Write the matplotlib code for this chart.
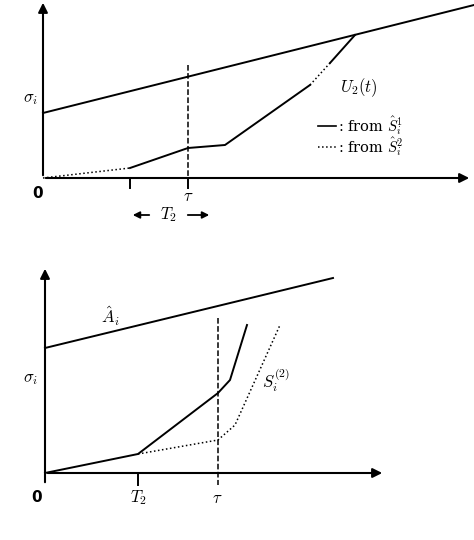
import matplotlib.pyplot as plt

plt.rcParams['mathtext.fontset'] = 'cm'

# top panel (pixel coordinates, y downward)
top_bound_x = [43, 474]
top_bound_y = [113, 5]
top_dot_x = [43, 130]
top_dot_y = [178, 168]
top_solid_x = [130, 188, 225, 310]
top_solid_y = [168, 148, 145, 85]
top_gap_x = [310, 330]
top_gap_y = [85, 63]
top_end_x = [330, 355]
top_end_y = [63, 35]

# bottom panel
bot_bound_x = [45, 333]
bot_bound_y = [348, 278]
bot_solid_x = [45, 138, 218, 230, 247]
bot_solid_y = [473, 454, 393, 380, 325]
bot_dot_x = [138, 218, 235, 280]
bot_dot_y = [454, 440, 425, 325]

fig = plt.figure(figsize=(4.74, 5.4), dpi=100)
ax = fig.add_axes([0, 0, 1, 1])
ax.set_xlim(0, 474)
ax.set_ylim(540, 0)
ax.axis('off')

lw = 1.4
arr = dict(arrowstyle='-|>', color='black', lw=1.5, mutation_scale=14)
# top axes
ax.annotate('', xy=(472, 178), xytext=(43, 178), arrowprops=arr)
ax.annotate('', xy=(43, 0), xytext=(43, 178), arrowprops=arr)
ax.plot(top_bound_x, top_bound_y, color='black', lw=lw)
ax.plot(top_dot_x, top_dot_y, color='black', lw=1.1, ls=':')
ax.plot(top_solid_x, top_solid_y, color='black', lw=lw)
ax.plot(top_gap_x, top_gap_y, color='black', lw=1.1, ls=':')
ax.plot(top_end_x, top_end_y, color='black', lw=lw)
ax.plot([188, 188], [65, 178], color='black', lw=1.1, ls='--')
for x in [130, 188]:
    ax.plot([x, x], [178, 188], color='black', lw=lw)
ax.text(38, 193, '0', fontsize=11, fontweight='bold', ha='center', va='center')
ax.text(188, 196, r'$\tau$', fontsize=12, ha='center', va='center')
ax.text(30, 98, r'$\sigma_i$', fontsize=12, ha='center', va='center')
ax.text(340, 88, r'$U_2(t)$', fontsize=12, ha='left', va='center')
ax.annotate('', xy=(130, 215), xytext=(152, 215), arrowprops=dict(arrowstyle='-|>', color='black', lw=1.3))
ax.annotate('', xy=(212, 215), xytext=(185, 215), arrowprops=dict(arrowstyle='-|>', color='black', lw=1.3))
ax.text(168, 215, r'$T_2$', fontsize=12, ha='center', va='center')
ax.plot([318, 336], [126, 126], color='black', lw=1.2)
ax.plot([318, 336], [147, 147], color='black', lw=1.1, ls=':')
ax.text(338, 126, r': from $\hat{S}_i^1$', fontsize=10.5, ha='left', va='center', family='serif')
ax.text(338, 147, r': from $\hat{S}_i^2$', fontsize=10.5, ha='left', va='center', family='serif')

# bottom axes
ax.annotate('', xy=(385, 473), xytext=(45, 473), arrowprops=arr)
ax.annotate('', xy=(45, 266), xytext=(45, 485), arrowprops=arr)
ax.plot(bot_bound_x, bot_bound_y, color='black', lw=lw)
ax.plot(bot_solid_x, bot_solid_y, color='black', lw=lw)
ax.plot(bot_dot_x, bot_dot_y, color='black', lw=1.1, ls=':')
ax.plot([218, 218], [318, 485], color='black', lw=1.1, ls='--')
ax.plot([138, 138], [473, 485], color='black', lw=lw)
ax.text(37, 498, '0', fontsize=11, fontweight='bold', ha='center', va='center')
ax.text(138, 498, r'$T_2$', fontsize=12, ha='center', va='center')
ax.text(217, 498, r'$\tau$', fontsize=12, ha='center', va='center')
ax.text(30, 378, r'$\sigma_i$', fontsize=12, ha='center', va='center')
ax.text(110, 316, r'$\hat{A}_i$', fontsize=12, ha='center', va='center')
ax.text(262, 380, r'$S_i^{(2)}$', fontsize=12, ha='left', va='center')

fig.savefig('out.png', dpi=100)
